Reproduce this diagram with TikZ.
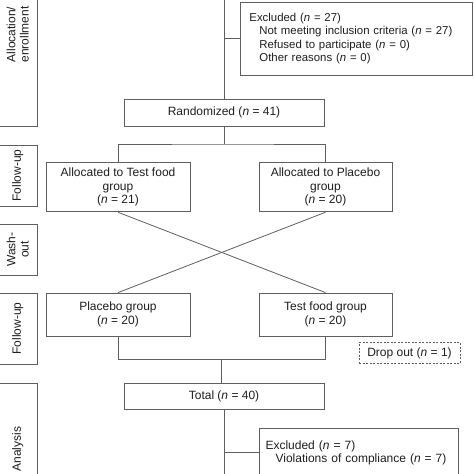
\documentclass[tikz,border=0pt]{standalone}
\usepackage{fontspec}
\setmainfont{Liberation Sans}
\usetikzlibrary{positioning}

\definecolor{linegray}{RGB}{95,95,95}
\definecolor{textgray}{RGB}{30,30,30}
\newcommand{\nn}{\textit{n}}

\tikzset{
  flowbox/.style={draw=linegray, line width=0.8pt, rectangle, inner sep=0pt, align=center, text=textgray, font=\fontsize{12}{13.4}\selectfont},
  sidebox/.style={flowbox, rotate=90, minimum height=39.5},
  notebox/.style={flowbox, anchor=north west, align=left},
  flowline/.style={draw=linegray, line width=0.8pt},
}

\begin{document}
\begin{tikzpicture}[x=1pt,y=1pt,yscale=-1,xscale=1]
\clip (0,0) rectangle (474,474);

%Shape: side labels
\node[sidebox, minimum width=184.7] (sideAlloc) at (17.75,34.35) {Allocation/\\enrollment};
\node[sidebox, minimum width=61] (sideFollowA) at (17.75,175.5) {Follow-up};
\node[sidebox, minimum width=51] (sideWash) at (17.75,249.5) {Wash-\\out};
\node[sidebox, minimum width=71] (sideFollowB) at (17.75,328.5) {Follow-up};
\node[sidebox, minimum width=132] (sideAnalysis) at (17.75,449) {Analysis};

%Shape: flow boxes
\node[notebox, minimum width=232, minimum height=73.5, text width=214, inner xsep=9, font=\fontsize{11.4}{13.3}\selectfont] (exclA) at (240,1.5)
  {Excluded (\nn{} = 27)\\\hspace*{10pt}Not meeting inclusion criteria (\nn{} = 27)\\\hspace*{10pt}Refused to participate (\nn{} = 0)\\\hspace*{10pt}Other reasons (\nn{} = 0)};
\node[flowbox, minimum width=200, minimum height=26.5] (rand) at (224,112.75) {Randomized (\nn{} = 41)};
\node[flowbox, minimum width=144, minimum height=49.7] (allocTest) at (118,187) {Allocated to Test food\\group\\(\nn{} = 21)};
\node[flowbox, minimum width=133, minimum height=49.7] (allocPlac) at (325.5,187) {Allocated to Placebo\\group\\(\nn{} = 20)};
\node[flowbox, minimum width=144, minimum height=43] (placGroup) at (118,314.5) {Placebo group\\(\nn{} = 20)};
\node[flowbox, minimum width=133, minimum height=43] (testGroup) at (325.5,314.5) {Test food group\\(\nn{} = 20)};
\node[flowbox, minimum width=101, minimum height=20.6, line width=0.7pt, dash pattern=on 2pt off 1.5pt] (dropout) at (409.5,353) {Drop out (\nn{} = 1)};
\node[flowbox, minimum width=200, minimum height=26] (total) at (224,396) {Total (\nn{} = 40)};
\node[notebox, minimum width=199.3, minimum height=48, text width=187, inner xsep=6] (exclB) at (259,428.3)
  {Excluded (\nn{} = 7)\\\hspace*{10pt}Violations of compliance (\nn{} = 7)};

%Straight Lines
\coordinate (topIn) at (224,-5);
\coordinate (split) at (224,144);
\coordinate (join) at (221.7,359.3);
\coordinate (botOut) at (224,480);

\draw[flowline] (topIn) -- (rand.north);
\draw[flowline] (topIn |- exclA.west) -- (exclA.west);
\draw[flowline] (rand.south) -- (split);
\draw[flowline] (allocTest.north) |- (split) -| (allocPlac.north);
\draw[flowline] (allocTest.south) -- (testGroup.north);
\draw[flowline] (allocPlac.south) -- (placGroup.north);
\draw[flowline] (placGroup.south) |- (join) -| (testGroup.south);
\draw[flowline] (join) -- (join |- total.north);
\draw[flowline] (total.south) -- (botOut);
\draw[flowline] (total.south |- exclB.west) -- (exclB.west);

\end{tikzpicture}
\end{document}
